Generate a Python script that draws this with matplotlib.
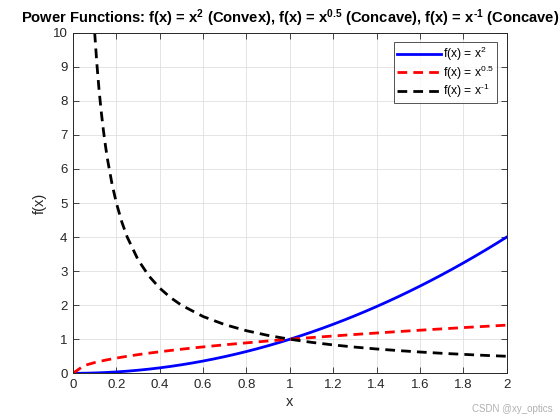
import matplotlib
matplotlib.use("Agg")
import matplotlib.pyplot as plt

# Data (tabulated values)
x_main = [0, 0.05, 0.1, 0.15, 0.2, 0.25, 0.3, 0.35, 0.4, 0.45, 0.5, 0.55, 0.6, 0.65, 0.7,
          0.75, 0.8, 0.85, 0.9, 0.95, 1.0, 1.05, 1.1, 1.15, 1.2, 1.25, 1.3, 1.35, 1.4,
          1.45, 1.5, 1.55, 1.6, 1.65, 1.7, 1.75, 1.8, 1.85, 1.9, 1.95, 2.0]
y_square = [0, 0.0025, 0.01, 0.0225, 0.04, 0.0625, 0.09, 0.1225, 0.16, 0.2025, 0.25,
            0.3025, 0.36, 0.4225, 0.49, 0.5625, 0.64, 0.7225, 0.81, 0.9025, 1.0, 1.1025,
            1.21, 1.3225, 1.44, 1.5625, 1.69, 1.8225, 1.96, 2.1025, 2.25, 2.4025, 2.56,
            2.7225, 2.89, 3.0625, 3.24, 3.4225, 3.61, 3.8025, 4.0]
y_sqrt = [0, 0.224, 0.316, 0.387, 0.447, 0.5, 0.548, 0.592, 0.632, 0.671, 0.707, 0.742,
          0.775, 0.806, 0.837, 0.866, 0.894, 0.922, 0.949, 0.975, 1.0, 1.025, 1.049, 1.072,
          1.095, 1.118, 1.14, 1.162, 1.183, 1.204, 1.225, 1.245, 1.265, 1.285, 1.304,
          1.323, 1.342, 1.36, 1.378, 1.396, 1.414]
x_recip = [0.1, 0.11, 0.12, 0.13, 0.14, 0.15, 0.16, 0.18, 0.2, 0.225, 0.25, 0.3, 0.35,
           0.4, 0.45, 0.5, 0.6, 0.7, 0.8, 0.9, 1.0, 1.1, 1.2, 1.3, 1.4, 1.5, 1.6, 1.7,
           1.8, 1.9, 2.0]
y_recip = [10, 9.091, 8.333, 7.692, 7.143, 6.667, 6.25, 5.556, 5, 4.444, 4, 3.333, 2.857,
           2.5, 2.222, 2, 1.667, 1.429, 1.25, 1.111, 1, 0.909, 0.833, 0.769, 0.714, 0.667,
           0.625, 0.588, 0.556, 0.526, 0.5]

x_ticks = [0, 0.2, 0.4, 0.6, 0.8, 1, 1.2, 1.4, 1.6, 1.8, 2]
x_tick_labels = ["0", "0.2", "0.4", "0.6", "0.8", "1", "1.2", "1.4", "1.6", "1.8", "2"]
y_ticks = [0, 1, 2, 3, 4, 5, 6, 7, 8, 9, 10]

plt.rcParams['font.family'] = ['Liberation Sans', 'DejaVu Sans']
plt.rcParams['mathtext.fontset'] = 'custom'
plt.rcParams['mathtext.rm'] = 'Liberation Sans'
plt.rcParams['mathtext.it'] = 'Liberation Sans'
plt.rcParams['mathtext.bf'] = 'Liberation Sans:bold'
plt.rcParams['mathtext.default'] = 'rm'

fig = plt.figure(figsize=(5.6, 4.2), dpi=100)
ax = fig.add_axes([73/560, 1 - 373.3/420, (506.7-73)/560, (373.3-32.7)/420])

HY = '\u2010'  # hyphen so superscript shows a short dash like the reference

ax.plot(x_main, y_square, color='#0000FF', lw=2, label=r'f(x) = x$^{2}$')
ax.plot(x_main, y_sqrt, color='#FF0000', lw=2, ls=(0, (3.5, 2.2)), label=r'f(x) = x$^{0.5}$')
ax.plot(x_recip, y_recip, color='black', lw=2, ls=(0, (3.5, 2.2)),
        label='f(x) = x$^{' + HY + '1}$')

ax.set_xlim(0, 2)
ax.set_ylim(0, 10)
ax.set_xticks(x_ticks)
ax.set_xticklabels(x_tick_labels)
ax.set_yticks(y_ticks)
ax.grid(True, color='#DFDFDF', lw=0.6)
ax.set_axisbelow(True)
ax.tick_params(direction='in', length=4, width=0.6, labelsize=9.5, colors='#262626',
               top=True, right=True, labeltop=False, labelright=False, pad=4)
for s in ax.spines.values():
    s.set_linewidth(0.7)
    s.set_color('#262626')

ax.set_xlabel('x', fontsize=10.5, color='#262626', labelpad=3)
ax.set_ylabel('f(x)', fontsize=10.5, color='#262626', labelpad=4)
fig.text(290/560, 1 - 23/420,
         'Power Functions: f(x) = x$^{\\mathbf{2}}$ (Convex), f(x) = x$^{\\mathbf{0.5}}$ (Concave), f(x) = x$^{\\mathbf{' + HY + '1}}$ (Concave)',
         ha='center', va='baseline', fontsize=10.6, fontweight='bold')

leg = ax.legend(loc='upper right', fontsize=8.7, frameon=True, fancybox=False,
                handlelength=3.6, handletextpad=0.2, borderpad=0.25, labelspacing=0.02,
                borderaxespad=0.0, bbox_to_anchor=(497/560, 1 - 42/420),
                bbox_transform=fig.transFigure)
leg.get_frame().set_edgecolor('#262626')
leg.get_frame().set_linewidth(0.7)

fig.text(553/560, 1 - 409/420, 'CSDN @xy_optics', ha='right', va='center',
         fontsize=7, color='#B0B0B0')

fig.savefig('out.png', dpi=100)
